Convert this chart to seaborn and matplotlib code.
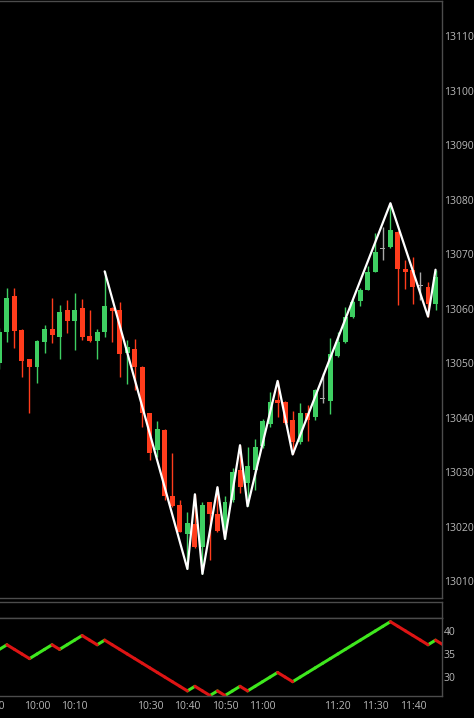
import numpy as np
import pandas as pd
import matplotlib
matplotlib.use("Agg")
import matplotlib.pyplot as plt
import matplotlib.transforms as mtransforms
import seaborn as sns

# 2-minute bars, 9:50 .. 11:46
opens  = [13050.0, 13055.8, 13062.4, 13056.1, 13050.8, 13049.4, 13054.0, 13056.4, 13054.9, 13059.8,
          13057.7, 13060.1, 13055.0, 13054.2, 13055.8, 13060.1, 13059.8, 13052.0, 13052.6, 13049.3,
          13040.9, 13034.2, 13037.8, 13025.6, 13024.0, 13018.8, 13020.5, 13016.4, 13024.5, 13022.4,
          13019.1, 13025.0, 13030.5, 13028.0, 13030.5, 13034.9, 13038.9, 13043.3, 13043.0, 13039.6,
          13035.5, 13040.9, 13040.1, 13043.4, 13043.2, 13051.3, 13054.0, 13058.5, 13061.5, 13063.5,
          13066.8, 13071.0, 13071.3, 13074.2, 13067.3, 13067.1, 13064.2, 13064.0, 13060.9]
highs  = [13056.5, 13063.8, 13063.8, 13056.3, 13050.8, 13054.3, 13057.1, 13062.0, 13060.7, 13061.6,
          13063.0, 13061.8, 13059.8, 13056.3, 13066.9, 13060.4, 13061.3, 13054.3, 13054.4, 13049.5,
          13041.0, 13039.5, 13037.9, 13033.5, 13025.0, 13022.8, 13026.0, 13024.6, 13024.6, 13027.3,
          13025.6, 13030.9, 13035.0, 13034.6, 13036.1, 13039.8, 13044.8, 13046.8, 13043.1, 13041.2,
          13042.7, 13042.4, 13045.4, 13048.3, 13054.6, 13055.8, 13060.3, 13061.7, 13063.8, 13067.9,
          13073.9, 13075.1, 13079.4, 13074.3, 13069.0, 13069.6, 13066.7, 13065.0, 13067.2]
lows   = [13049.0, 13054.0, 13052.8, 13047.6, 13040.9, 13046.4, 13051.9, 13053.7, 13050.9, 13055.5,
          13052.5, 13054.3, 13054.0, 13050.8, 13054.8, 13054.0, 13047.6, 13046.2, 13045.1, 13038.4,
          13032.3, 13032.9, 13025.0, 13023.7, 13019.0, 13012.3, 13016.1, 13011.4, 13013.9, 13019.1,
          13017.8, 13024.6, 13026.2, 13023.8, 13026.7, 13034.4, 13038.4, 13040.2, 13038.9, 13033.3,
          13035.3, 13035.7, 13039.6, 13042.8, 13040.8, 13051.2, 13053.8, 13058.3, 13060.6, 13063.4,
          13066.7, 13069.0, 13071.1, 13060.7, 13063.6, 13061.0, 13061.6, 13058.6, 13059.8]
closes = [13055.8, 13062.1, 13056.0, 13050.5, 13049.3, 13054.1, 13056.4, 13055.2, 13059.5, 13057.7,
          13059.8, 13054.9, 13054.1, 13055.8, 13060.6, 13059.7, 13051.8, 13053.0, 13049.3, 13041.0,
          13033.5, 13037.9, 13025.6, 13023.9, 13019.1, 13020.8, 13016.4, 13024.0, 13022.4, 13019.3,
          13024.6, 13030.1, 13027.4, 13031.2, 13034.7, 13039.5, 13043.0, 13042.8, 13039.0, 13035.5,
          13040.9, 13039.6, 13045.1, 13043.4, 13051.8, 13054.0, 13058.5, 13061.3, 13063.4, 13066.8,
          13070.5, 13071.0, 13074.4, 13067.3, 13066.8, 13064.0, 13064.2, 13060.9, 13065.8]

# zigzag pivots: bar index and whether it is a high or a low
zz_idx  = [14, 25, 26, 27, 29, 30, 32, 33, 37, 39, 52, 57, 58]
zz_kind = ["H", "L", "H", "L", "H", "L", "H", "L", "H", "L", "H", "L", "H"]

# lower indicator, one value per bar (last one runs past the edge)
indicator = [36, 37, 36, 35, 34, 35, 36, 37, 36, 37, 38, 39, 38, 37, 38, 37, 36, 35, 34, 33,
             32, 31, 30, 29, 28, 27, 28, 27, 26, 27, 26, 27, 28, 27, 28, 29, 30, 31, 30, 29,
             30, 31, 32, 33, 34, 35, 36, 37, 38, 39, 40, 41, 42, 41, 40, 39, 38, 37, 38, 37]

time_ticks  = [5, 10, 20, 25, 30, 35, 45, 50, 55]
time_labels = ["10:00", "10:10", "10:30", "10:40", "10:50", "11:00", "11:20", "11:30", "11:40"]
price_ticks = [13010, 13020, 13030, 13040, 13050, 13060, 13070, 13080, 13090, 13100, 13110]
ind_ticks   = [30, 35, 40]

GREEN, RED, DOJI = "#3ecf62", "#ff3c1c", "#a8a8a8"
LGREEN, LRED = "#3fe81e", "#dd1414"
BORDER, TXT = "#4c4c4c", "#b8b8b8"

sns.set_theme(style="dark", rc={"figure.facecolor": "black", "axes.facecolor": "black",
                                "axes.edgecolor": BORDER, "axes.grid": False})
plt.rcParams["font.family"] = ["Open Sans", "DejaVu Sans"]

W, H = 474, 718
fig = plt.figure(figsize=(W / 100, H / 100), dpi=100)
xr = 441.7 / W
ax = fig.add_axes([0, (H - 598) / H, xr, 597 / H])
strip = fig.add_axes([0, (H - 618) / H, xr, 16 / H])
ax2 = fig.add_axes([0, (H - 696) / H, xr, 78 / H])

df = pd.DataFrame({"o": opens, "h": highs, "l": lows, "c": closes})
df["i"] = np.arange(len(df))
df["col"] = np.where(df.c > df.o, GREEN, np.where(df.c < df.o, RED, DOJI))

ax.vlines(df.i, df.l, df.h, colors=df.col, lw=1.0, zorder=2)
body_lo = np.minimum(df.o, df.c)
body_h = np.maximum(np.abs(df.c - df.o), 0.2)
ax.bar(df.i, body_h, bottom=body_lo, width=0.66, color=df.col, linewidth=0, zorder=3)

zz_y = [highs[k] if t == "H" else lows[k] for k, t in zip(zz_idx, zz_kind)]
sns.lineplot(x=zz_idx, y=zz_y, ax=ax, color="white", lw=1.6, sort=False,
             estimator=None, zorder=4)

ax.set_xlim(0.08, 58.82)
ax.set_ylim(13006.97, 13116.5)
ax.yaxis.tick_right()
ax.set_yticks(price_ticks)
ax.set_yticklabels([str(v) for v in price_ticks])
ax.set_xticks([])
ax.tick_params(axis="y", length=0, pad=1.5, labelsize=7.5, labelcolor=TXT)
ax.spines["left"].set_visible(False)
ax.set_xlabel(""); ax.set_ylabel("")

# indicator pane, coloured by direction
seg = pd.DataFrame({"i": np.arange(len(indicator)), "v": indicator})
rows = []
for k in range(len(indicator) - 1):
    d = "up" if indicator[k + 1] > indicator[k] else "down"
    rows.append({"seg": k, "i": k, "v": indicator[k], "dir": d})
    rows.append({"seg": k, "i": k + 1, "v": indicator[k + 1], "dir": d})
segs = pd.DataFrame(rows)
sns.lineplot(data=segs, x="i", y="v", units="seg", hue="dir", estimator=None,
             palette={"up": LGREEN, "down": LRED}, lw=2.2, legend=False, ax=ax2,
             solid_capstyle="round")
ax2.set_xlim(0.08, 58.82)
ax2.set_ylim(25.9, 42.8)
ax2.yaxis.tick_right()
ax2.set_yticks(ind_ticks)
ax2.set_yticklabels([str(v) for v in ind_ticks])
ax2.set_xticks(time_ticks)
ax2.set_xticklabels(time_labels)
ax2.tick_params(axis="y", length=0, pad=1.5, labelsize=7.5, labelcolor=TXT)
ax2.tick_params(axis="x", length=0, pad=3.5, labelsize=7.5, labelcolor=TXT)
ax2.spines["left"].set_visible(False)
ax2.set_xlabel(""); ax2.set_ylabel("")
# the 9:50 label is cut by the left edge
trans = mtransforms.blended_transform_factory(ax2.transData, ax2.transAxes)
ax2.annotate("9:50", xy=(0.08, 0), xycoords=trans, xytext=(3.5, -3.5),
             textcoords="offset points", ha="right", va="top", fontsize=7.5,
             color=TXT, annotation_clip=False)

strip.set_xticks([]); strip.set_yticks([])
strip.spines["left"].set_visible(False)

for a in (ax, ax2, strip):
    for s in a.spines.values():
        s.set_color(BORDER)
        s.set_linewidth(1.0)

fig.savefig("out.png", dpi=100, facecolor="black")
